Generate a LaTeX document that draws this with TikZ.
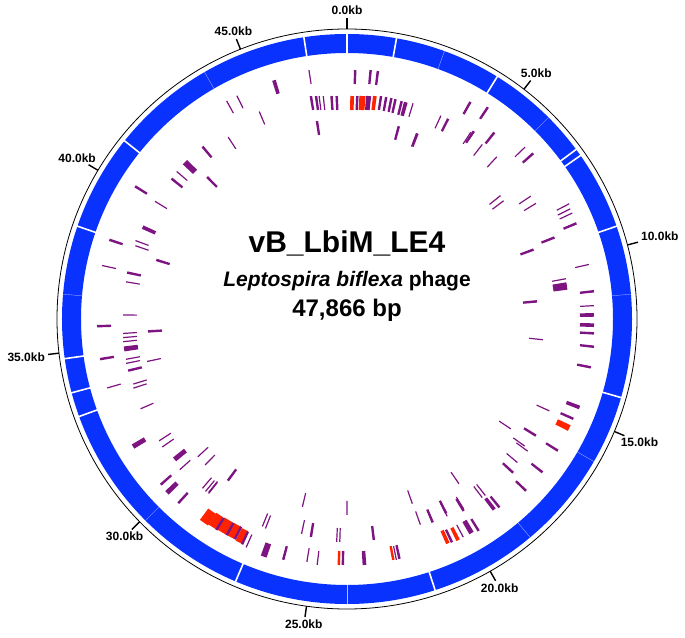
\documentclass[tikz,border=0pt]{standalone}
\usepackage{fontspec}
\setmainfont{Liberation Sans}
\definecolor{gblue}{RGB}{10,50,255}
\definecolor{gpurp}{RGB}{125,20,130}
\definecolor{gred}{RGB}{255,35,0}
\newcommand\feat[4]{%
  \pgfmathsetmacro\fa{atan2(319-#2,#1-347)}%
  \pgfmathsetmacro\fr{veclen(#1-347,319-#2)}%
  \pgfmathsetmacro\fw{#3*1.2*28.65/\fr}%
  \pgfmathsetmacro\frin{\fr-7}\pgfmathsetmacro\frout{\fr+7}%
  \pgfmathsetmacro\fb{\fa-\fw}\pgfmathsetmacro\fe{\fa+\fw}%
  \fill[#4] (\fb:\frin pt) arc[start angle=\fb,end angle=\fe,radius=\frin pt] -- (\fe:\frout pt) arc[start angle=\fe,end angle=\fb,radius=\frout pt] -- cycle;}
\begin{document}
\begin{tikzpicture}[lbl/.style={font=\bfseries\fontsize{12}{13}\selectfont}]
\useasboundingbox (-347pt,-318pt) rectangle (338pt,319pt);
\coordinate (c) at (0,0);
% blue band
\fill[gblue,even odd rule] (c) circle[radius=285pt] (c) circle[radius=266pt];
\foreach \g in {0,-8.7,10,31.8,53.5,55,71,106,162,203,250,255,262,289,308.7}{
  \draw[white,line width=1.6pt] (90-\g:264pt) -- (90-\g:287pt);}
\foreach \g in {20,45,85,120,140,180,225,275,330}{
  \draw[white!70!gblue,line width=0.3pt] (90-\g:266pt) -- (90-\g:285pt);}
\draw[line width=0.8pt] (c) circle[radius=290pt];
\foreach \k in {0,...,9}{
  \pgfmathsetmacro\t{90-\k*37.6050}
  \pgfmathsetmacro\an{\t+180}
  \pgfmathtruncatemacro\kv{\k*5}
  \draw[line width=1.4pt] (\t:290pt) -- (\t:301pt);
  \node[lbl,anchor=\an,inner sep=1pt] (t\k) at (\t:303pt) {\kv.0kb};}
% features (x,y,width,color)
\foreach \x/\y/\w/\c in {
310/77/1/gpurp,355/77/2/gpurp,370/77/2/gpurp,377/78/2/gpurp,276/87/3/gpurp,
312/103/2/gpurp,317/103/2/gpurp,320/103/1/gpurp,324/103/1/gpurp,332/103/2/gpurp,337/103/2/gpurp,
352/103/3/gred,357/103/2/gpurp,362/103/5/gred,368/103/4/gpurp,374/103/3/gred,380/103/2/gpurp,
385/104/2/gpurp,390/105/2/gpurp,394/106/2/gpurp,400/108/2/gpurp,404/109/3/gpurp,411/110/1/gpurp,
230/107/1/gpurp,240/102/1/gpurp,262/118/1/gpurp,318/128/2/gpurp,397/133/2/gpurp,415/140/2/gpurp,
467/108/2/gpurp,484/113/2/gpurp,438/122/1/gpurp,445/125/2/gpurp,470/137/2/gpurp,232/143/1/gpurp,
207/152/2/gpurp,190/167/5/gpurp,182/176/1/gpurp,177/183/2/gpurp,212/182/2/gpurp,
141/190/2/gpurp,161/205/1/gpurp,149/230/3/gpurp,116/242/2/gpurp,142/243/1/gpurp,142/248/1/gpurp,
163/262/2/gpurp,109/267/1/gpurp,134/274/2/gpurp,133/283/1/gpurp,
130/315/1/gpurp,104/326/2/gpurp,155/331/2/gpurp,130/333/1/gpurp,130/337/1/gpurp,130/341/1/gpurp,
131/348/4/gpurp,107/358/2/gpurp,133/358/1/gpurp,133/362/1/gpurp,154/360/1/gpurp,135/369/2/gpurp,
114/386/1/gpurp,140/382/1/gpurp,140/386/1/gpurp,147/406/1/gpurp,
139/443/4/gpurp,165/437/1/gpurp,168/443/1/gpurp,180/455/4/gpurp,185/465/1/gpurp,203/452/1/gpurp,
210/460/1/gpurp,232/475/2/gpurp,166/480/2/gpurp,172/488/4/gpurp,183/498/2/gpurp,207/483/1/gpurp,213/488/1/gpurp,
414/140/1/gpurp,467/138/1/gpurp,478/150/1/gpurp,490/138/2/gpurp,520/152/1/gpurp,528/158/2/gpurp,492/162/1/gpurp,
495/200/1/gpurp,498/205/1/gpurp,525/200/1/gpurp,530/207/1/gpurp,563/207/1/gpurp,564/212/1/gpurp,566/216/1/gpurp,570/226/2/gpurp,
548/240/2/gpurp,527/252/2/gpurp,582/266/1/gpurp,559/280/1/gpurp,560/287/6/gpurp,
530/302/2/gpurp,587/292/2/gpurp,587/306/1/gpurp,587/315/3/gpurp,587/325/3/gpurp,587/333/2/gpurp,587/346/2/gpurp,
536/339/1/gpurp,584/366/2/gpurp,
573/405/3/gpurp,567/416/2/gpurp,563/425/5/gred,543/408/1/gpurp,505/425/1/gpurp,530/432/2/gpurp,
519/442/1/gpurp,522/447/1/gpurp,552/447/2/gpurp,512/458/1/gpurp,508/468/2/gpurp,537/468/2/gpurp,521/486/2/gpurp,
455/478/1/gpurp,478/492/1/gpurp,481/490/1/gpurp,490/504/3/gpurp,495/502/2/gpurp,460/503/1/gpurp,444/510/1/gpurp,
210/486/1/gpurp,213/487/1/gpurp,
208/517/8/gred,216/521/7/gred,225/526/8/gred,234/531/7/gred,242/536/6/gred,
220/524/2/gpurp,230/529/2/gpurp,238/533/2/gpurp,245/538/2/gpurp,249/541/1/gpurp,
265/520/1/gpurp,268/522/1/gpurp,266/550/5/gpurp,285/553/2/gpurp,304/500/1/gpurp,303/527/1/gpurp,312/530/2/gpurp,
308/555/1/gpurp,318/558/1/gpurp,337/535/1/gpurp,340/535/1/gpurp,347/508/1/gpurp,
339/558/2/gred,343/558/2/gpurp,373/533/2/gpurp,364/558/3/gpurp,392/553/2/gred,395/553/1/gpurp,398/552/2/gpurp,
410/497/1/gpurp,418/518/1/gpurp,430/516/2/gpurp,443/507/2/gpurp,460/505/2/gpurp,
445/537/3/gred,449/536/2/gpurp,455/534/3/gred,460/531/1/gpurp,468/527/4/gpurp,475/525/2/gpurp}{
  \feat{\x}{\y}{\w}{\c}}
% title
\node[font=\bfseries\fontsize{30}{34}\selectfont] (name) at (0pt,76pt) {vB\_LbiM\_LE4};
\node[font=\bfseries\fontsize{21}{24}\selectfont] (host) at (0pt,38pt) {\textit{Leptospira biflexa} phage};
\node[font=\bfseries\fontsize{24}{27}\selectfont] (len) at (0pt,9pt) {47,866 bp};
\end{tikzpicture}
\end{document}
